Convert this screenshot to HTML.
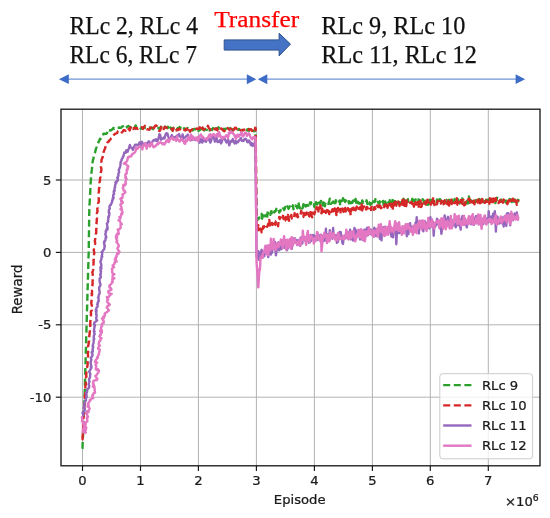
<!DOCTYPE html>
<html lang="en"><head><meta charset="utf-8"><title>Transfer reward plot</title>
<style>
html,body{margin:0;padding:0;background:#fff;}
body{width:550px;height:518px;overflow:hidden;}
svg{display:block;filter:blur(0.45px);}
.ser{font-family:"Liberation Serif","DejaVu Serif",serif;font-size:24.6px;fill:#111;stroke:#111;stroke-width:0.25;}
.sans{font-family:"DejaVu Sans","Liberation Sans",sans-serif;font-size:12.5px;fill:#1a1a1a;stroke:#1a1a1a;stroke-width:0.25;}
</style></head><body>
<svg width="550" height="518" viewBox="0 0 550 518">
<rect width="550" height="518" fill="#fff"/>
<g class="ser">
<text x="69.5" y="33.6" textLength="128.5" lengthAdjust="spacingAndGlyphs">RLc 2, RLc 4</text>
<text x="69.5" y="62.8" textLength="127.5" lengthAdjust="spacingAndGlyphs">RLc 6, RLc 7</text>
<text x="321.3" y="33.6" textLength="144" lengthAdjust="spacingAndGlyphs">RLc 9, RLc 10</text>
<text x="321.3" y="62.8" textLength="155.5" lengthAdjust="spacingAndGlyphs">RLc 11, RLc 12</text>
<text x="214.2" y="26.9" textLength="85" font-size="24" lengthAdjust="spacingAndGlyphs" style="fill:#f00;stroke:#f00">Transfer</text>
</g>
<polygon points="224.2,39.9 279.1,39.9 279.1,33.2 290.5,44.1 279.1,55.9 279.1,50.1 224.2,50.1" fill="#4472c4" stroke="#2f528f" stroke-width="1"/>
<g stroke="#6f93d6" stroke-width="1.3"><line x1="66" y1="79.2" x2="250" y2="79.2"/><line x1="264" y1="79.2" x2="518" y2="79.2"/></g>
<g fill="#3d6cc6">
<polygon points="58.9,79.2 68.8,74.3 68.8,84.1"/>
<polygon points="256.3,79.2 246.8,74.2 246.8,84.2"/>
<polygon points="257.8,79.2 267.3,74.2 267.3,84.2"/>
<polygon points="525.1,79.2 515.6,74.3 515.6,84.1"/>
</g>
<g stroke="#b2b2b2" stroke-width="1"><line x1="82.5" y1="109.2" x2="82.5" y2="465.8"/><line x1="140.5" y1="109.2" x2="140.5" y2="465.8"/><line x1="198.4" y1="109.2" x2="198.4" y2="465.8"/><line x1="256.4" y1="109.2" x2="256.4" y2="465.8"/><line x1="314.4" y1="109.2" x2="314.4" y2="465.8"/><line x1="372.4" y1="109.2" x2="372.4" y2="465.8"/><line x1="430.3" y1="109.2" x2="430.3" y2="465.8"/><line x1="488.3" y1="109.2" x2="488.3" y2="465.8"/><line x1="61" y1="180.0" x2="540" y2="180.0"/><line x1="61" y1="252.4" x2="540" y2="252.4"/><line x1="61" y1="324.8" x2="540" y2="324.8"/><line x1="61" y1="397.2" x2="540" y2="397.2"/></g>
<g fill="none" stroke-linejoin="round" stroke-width="2.4">
<path d="M82.4,448.9 L82.5,448.6 L82.5,448.0 L82.5,447.0 L82.6,446.1 L82.6,445.1 L82.6,444.4 L82.7,443.4 L82.7,442.6 L82.7,441.3 L82.8,440.9 L82.8,439.8 L82.9,439.0 L82.9,438.0 L82.9,437.1 L83.0,436.3 L83.0,435.5 L83.0,434.4 L83.1,433.5 L83.1,432.7 L83.2,431.6 L83.2,430.5 L83.2,429.9 L83.3,428.9 L83.3,427.8 L83.3,427.0 L83.4,426.2 L83.4,425.2 L83.5,424.2 L83.5,423.5 L83.5,422.8 L83.6,421.8 L83.6,420.8 L83.7,420.1 L83.7,419.3 L83.7,418.2 L83.8,417.4 L83.8,416.6 L83.8,415.6 L83.9,414.5 L83.9,413.8 L84.0,412.9 L84.0,412.1 L84.0,410.9 L84.1,410.0 L84.1,409.0 L84.1,408.0 L84.2,407.4 L84.2,406.6 L84.3,405.5 L84.3,404.9 L84.3,404.0 L84.4,403.1 L84.4,402.2 L84.4,401.3 L84.5,400.1 L84.5,399.4 L84.5,398.6 L84.6,397.3 L84.6,396.6 L84.6,395.7 L84.6,395.0 L84.7,393.9 L84.7,393.0 L84.7,392.2 L84.7,391.1 L84.8,390.4 L84.8,389.4 L84.8,388.6 L84.8,387.6 L84.9,386.9 L84.9,386.0 L84.9,385.0 L84.9,384.2 L85.0,383.4 L85.0,382.6 L85.0,381.2 L85.0,380.5 L85.1,379.7 L85.1,378.7 L85.1,377.6 L85.1,377.0 L85.2,375.8 L85.2,375.1 L85.2,374.4 L85.2,373.1 L85.3,372.3 L85.3,371.2 L85.3,370.5 L85.3,369.9 L85.4,369.1 L85.4,367.7 L85.4,366.8 L85.4,366.1 L85.5,365.4 L85.5,364.4 L85.5,363.3 L85.5,362.5 L85.6,361.6 L85.6,360.6 L85.6,359.6 L85.6,358.9 L85.7,358.0 L85.7,357.1 L85.7,356.1 L85.7,355.0 L85.8,354.2 L85.8,353.6 L85.8,352.6 L85.8,351.4 L85.9,350.9 L85.9,350.0 L85.9,349.3 L85.9,348.2 L86.0,347.1 L86.0,346.0 L86.0,345.5 L86.0,344.9 L86.1,343.6 L86.1,342.6 L86.1,341.8 L86.1,340.8 L86.2,339.9 L86.2,339.0 L86.2,338.2 L86.2,337.4 L86.3,336.4 L86.3,335.6 L86.3,334.6 L86.3,333.7 L86.4,332.4 L86.4,331.5 L86.4,331.0 L86.4,330.0 L86.5,329.2 L86.5,328.4 L86.5,327.6 L86.5,326.7 L86.6,325.8 L86.6,324.7 L86.6,323.7 L86.6,322.7 L86.7,321.9 L86.7,320.9 L86.7,320.0 L86.7,319.2 L86.8,318.4 L86.8,317.4 L86.8,316.3 L86.8,315.6 L86.9,314.8 L86.9,314.0 L86.9,313.1 L86.9,312.0 L87.0,311.0 L87.0,310.6 L87.0,309.6 L87.0,308.8 L87.1,308.0 L87.1,306.7 L87.1,305.8 L87.2,305.0 L87.2,304.1 L87.2,303.2 L87.2,302.3 L87.3,301.3 L87.3,300.2 L87.3,299.4 L87.3,298.4 L87.4,297.7 L87.4,296.7 L87.4,296.0 L87.4,295.1 L87.5,294.2 L87.5,293.3 L87.5,292.3 L87.5,291.3 L87.6,290.4 L87.6,289.5 L87.6,288.7 L87.7,287.8 L87.7,287.0 L87.7,285.8 L87.7,285.2 L87.8,284.1 L87.8,283.1 L87.8,282.3 L87.8,281.4 L87.9,280.6 L87.9,279.6 L87.9,278.6 L87.9,277.7 L88.0,277.1 L88.0,276.1 L88.0,275.0 L88.0,274.2 L88.1,273.1 L88.1,272.7 L88.1,271.4 L88.2,270.7 L88.2,269.9 L88.2,268.7 L88.2,268.0 L88.3,267.3 L88.3,266.3 L88.3,265.4 L88.3,264.6 L88.4,263.6 L88.4,262.7 L88.4,261.7 L88.4,260.9 L88.5,259.8 L88.5,259.1 L88.5,258.0 L88.5,257.0 L88.6,256.3 L88.6,255.7 L88.6,254.7 L88.7,253.6 L88.7,252.8 L88.7,251.8 L88.7,250.9 L88.7,250.0 L88.7,248.8 L88.8,248.1 L88.8,247.1 L88.8,246.3 L88.8,245.2 L88.8,244.3 L88.8,243.5 L88.8,242.9 L88.8,242.2 L88.9,241.1 L88.9,240.3 L88.9,239.2 L88.9,238.0 L88.9,237.3 L88.9,236.6 L88.9,235.6 L88.9,234.7 L89.0,233.9 L89.0,232.8 L89.0,231.8 L89.0,231.0 L89.0,230.1 L89.0,229.2 L89.0,228.5 L89.0,227.8 L89.1,226.6 L89.1,225.8 L89.1,225.0 L89.1,224.1 L89.1,223.2 L89.1,222.1 L89.1,221.3 L89.2,220.6 L89.2,219.6 L89.2,218.5 L89.2,217.7 L89.2,216.9 L89.2,215.9 L89.2,214.9 L89.2,214.2 L89.3,213.0 L89.3,212.2 L89.3,211.3 L89.3,210.2 L89.3,209.6 L89.4,208.7 L89.4,207.5 L89.5,206.9 L89.5,205.9 L89.5,204.7 L89.6,203.9 L89.6,203.2 L89.7,202.4 L89.7,201.5 L89.8,200.5 L89.8,199.7 L89.9,198.7 L89.9,198.0 L90.0,197.0 L90.0,196.1 L90.0,195.2 L90.1,194.1 L90.1,193.2 L90.2,192.6 L90.2,191.7 L90.3,190.6 L90.3,189.8 L90.4,188.8 L90.4,188.0 L90.4,186.9 L90.5,186.2 L90.5,185.0 L90.6,184.5 L90.6,183.4 L90.7,182.3 L90.7,181.5 L90.8,180.6 L90.9,179.8 L90.9,178.7 L91.0,178.1 L91.1,177.9 L91.2,176.2 L91.3,175.4 L91.4,174.4 L91.4,173.6 L91.5,172.3 L91.6,171.4 L91.7,170.9 L91.8,170.0 L91.9,169.4 L92.0,168.2 L92.1,167.3 L92.2,167.0 L92.2,165.5 L92.3,164.4 L92.4,163.7 L92.5,162.8 L92.6,162.1 L92.8,161.1 L92.9,160.0 L93.1,159.3 L93.3,159.2 L93.5,158.2 L93.7,156.0 L94.0,155.6 L94.2,154.6 L94.5,154.2 L94.7,153.2 L94.9,152.9 L95.2,151.9 L95.4,151.0 L95.7,149.9 L95.9,148.9 L96.2,148.1 L96.4,147.6 L96.7,146.6 L97.0,145.4 L97.4,145.1 L97.7,144.1 L98.2,143.1 L98.6,141.9 L99.0,141.1 L99.5,140.3 L99.9,138.6 L100.4,139.2 L100.9,138.6 L101.3,137.6 L101.8,137.3 L102.3,136.5 L102.9,135.7 L103.5,133.6 L104.1,133.7 L104.8,133.7 L105.5,134.0 L106.2,133.9 L106.9,133.3 L107.7,131.2 L108.5,129.6 L109.2,130.5 L110.0,130.2 L110.9,130.5 L111.7,129.7 L112.5,129.4 L113.4,127.9 L114.2,128.7 L115.1,128.1 L116.0,128.3 L116.8,128.3 L117.7,127.8 L118.6,127.8 L119.5,127.5 L120.4,127.9 L121.2,127.7 L122.1,126.7 L123.0,126.3 L123.9,128.1 L124.8,127.0 L125.7,127.7 L126.6,127.3 L127.5,126.4 L128.4,126.0 L129.3,126.7 L130.2,127.0 L131.1,127.5 L132.0,126.0 L132.9,126.1 L133.8,126.6 L134.7,128.3 L135.6,125.4 L136.5,127.0 L137.4,126.6 L138.3,127.4 L139.2,126.9 L140.1,127.5 L141.0,128.7 L141.9,128.1 L142.8,128.0 L143.7,128.0 L144.6,127.0 L145.5,127.9 L146.4,127.5 L147.3,126.9 L148.2,127.4 L149.1,127.5 L150.0,128.4 L150.9,127.9 L151.8,127.4 L152.7,129.0 L153.6,129.1 L154.5,129.4 L155.4,128.9 L156.3,128.2 L157.2,127.7 L158.1,127.7 L159.0,128.8 L159.9,128.4 L160.8,126.8 L161.7,127.7 L162.6,126.7 L163.5,127.9 L164.4,127.0 L165.3,126.7 L166.2,127.9 L167.1,128.1 L168.0,126.7 L168.9,128.5 L169.8,130.3 L170.7,127.6 L171.6,129.7 L172.5,128.2 L173.4,127.9 L174.3,128.1 L175.2,127.0 L176.1,129.2 L177.0,129.1 L177.9,128.0 L178.8,128.1 L179.7,127.1 L180.6,127.8 L181.5,129.2 L182.4,127.2 L183.3,127.8 L184.2,128.5 L185.1,129.6 L186.0,130.1 L186.9,128.7 L187.8,128.1 L188.7,128.9 L189.6,128.5 L190.5,128.4 L191.4,129.7 L192.3,130.6 L193.2,129.6 L194.1,128.9 L195.0,129.4 L195.9,127.4 L196.8,128.5 L197.7,127.9 L198.6,130.8 L199.5,130.2 L200.4,129.5 L201.3,129.0 L202.2,126.8 L203.1,129.0 L204.0,130.5 L204.9,128.8 L205.8,129.6 L206.7,129.9 L207.6,127.9 L208.5,129.6 L209.4,130.5 L210.3,129.7 L211.2,129.2 L212.1,129.9 L213.0,128.0 L213.9,128.9 L214.8,130.0 L215.7,128.3 L216.6,129.8 L217.5,129.0 L218.4,127.3 L219.3,128.5 L220.2,128.1 L221.1,129.2 L222.0,128.2 L222.9,129.9 L223.8,128.8 L224.7,129.4 L225.6,128.8 L226.5,128.8 L227.4,130.2 L228.3,129.8 L229.2,129.1 L230.1,128.1 L231.0,130.0 L231.9,130.2 L232.8,129.3 L233.7,129.6 L234.6,128.6 L235.5,128.3 L236.4,128.4 L237.3,129.5 L238.2,129.8 L239.1,129.0 L240.0,130.0 L240.9,130.4 L241.8,130.0 L242.7,130.7 L243.6,129.7 L244.5,129.6 L245.4,130.1 L246.3,129.8 L247.2,130.5 L248.1,128.9 L249.0,130.8 L249.9,129.4 L250.8,129.6 L251.6,128.6 L252.5,130.0 L253.4,131.1 L254.2,131.2 L254.9,131.1 L255.4,128.9 L256.6,219.0 L257.2,219.4 L257.7,218.1 L258.3,219.5 L258.8,217.8 L259.4,217.5 L259.9,217.6 L260.5,217.1 L261.0,216.1 L261.6,213.8 L262.1,218.7 L262.7,213.9 L263.2,215.0 L263.8,216.3 L264.3,215.8 L264.9,215.8 L265.4,215.8 L266.0,216.3 L266.5,214.7 L267.1,218.2 L267.6,212.4 L268.2,213.5 L268.7,212.6 L269.3,212.1 L269.8,213.1 L270.4,214.8 L270.9,211.6 L271.5,211.2 L272.0,213.1 L272.6,212.9 L273.1,214.8 L273.7,213.5 L274.2,212.0 L274.8,210.9 L275.3,211.5 L275.9,210.8 L276.4,208.8 L277.0,210.5 L277.5,210.3 L278.1,210.0 L278.6,209.5 L279.2,212.5 L279.7,211.2 L280.3,211.3 L280.8,208.8 L281.4,207.8 L281.9,208.7 L282.5,209.4 L283.0,208.4 L283.6,208.4 L284.1,210.0 L284.7,209.0 L285.2,206.9 L285.8,207.4 L286.3,207.1 L286.9,208.2 L287.4,206.3 L288.0,207.5 L288.5,208.8 L289.1,207.9 L289.6,206.4 L290.2,206.6 L290.7,207.7 L291.3,208.2 L291.8,208.8 L292.4,207.3 L292.9,205.3 L293.5,209.2 L294.0,207.8 L294.6,207.8 L295.1,207.5 L295.7,205.5 L296.2,206.3 L296.8,207.1 L297.3,208.3 L297.9,206.9 L298.4,202.0 L299.0,205.7 L299.5,206.9 L300.1,208.4 L300.6,207.6 L301.2,210.1 L301.7,208.7 L302.3,208.4 L302.8,207.7 L303.4,204.1 L303.9,207.0 L304.5,206.9 L305.0,205.1 L305.6,206.5 L306.1,206.4 L306.7,205.0 L307.2,205.3 L307.8,205.0 L308.3,205.7 L308.9,204.7 L309.4,206.0 L310.0,202.4 L310.5,204.4 L311.1,202.4 L311.6,204.0 L312.2,205.6 L312.7,204.9 L313.3,204.6 L313.8,204.8 L314.4,207.0 L314.9,203.1 L315.5,205.7 L316.0,202.3 L316.6,203.5 L317.1,204.5 L317.7,203.0 L318.2,204.4 L318.8,205.2 L319.3,202.4 L319.9,203.7 L320.4,203.3 L321.0,200.9 L321.5,203.2 L322.1,202.5 L322.6,205.6 L323.2,202.5 L323.7,206.0 L324.3,203.0 L324.8,206.3 L325.4,204.5 L325.9,204.1 L326.5,204.5 L327.0,204.7 L327.6,205.4 L328.1,205.9 L328.7,202.8 L329.2,201.1 L329.8,198.7 L330.3,201.8 L330.9,203.8 L331.4,203.4 L332.0,202.9 L332.5,202.1 L333.1,201.5 L333.6,201.9 L334.2,202.9 L334.7,199.8 L335.3,203.1 L335.8,200.1 L336.4,201.7 L336.9,201.1 L337.5,201.4 L338.0,200.4 L338.6,200.1 L339.1,201.5 L339.7,200.4 L340.2,205.5 L340.8,201.8 L341.3,201.0 L341.9,201.1 L342.4,200.4 L343.0,198.2 L343.5,201.3 L344.1,202.5 L344.6,199.9 L345.2,201.9 L345.7,200.3 L346.3,201.9 L346.8,202.6 L347.4,202.9 L347.9,202.9 L348.5,201.2 L349.0,203.4 L349.6,201.6 L350.1,202.6 L350.7,203.3 L351.2,201.8 L351.8,200.2 L352.3,202.9 L352.9,200.6 L353.4,200.7 L354.0,200.4 L354.5,203.3 L355.1,202.1 L355.6,198.9 L356.2,203.0 L356.7,205.4 L357.3,205.2 L357.8,201.7 L358.4,202.3 L358.9,203.0 L359.5,203.7 L360.0,202.5 L360.6,200.7 L361.1,203.3 L361.7,203.3 L362.2,200.4 L362.8,201.6 L363.3,202.6 L363.9,202.3 L364.4,203.1 L365.0,203.6 L365.5,203.3 L366.1,202.3 L366.6,200.3 L367.2,203.1 L367.7,204.5 L368.3,205.5 L368.8,202.6 L369.4,202.4 L369.9,204.5 L370.5,204.8 L371.0,203.2 L371.6,203.6 L372.1,201.4 L372.7,203.2 L373.2,201.3 L373.8,202.1 L374.3,202.2 L374.9,201.7 L375.4,199.2 L376.0,200.8 L376.5,202.7 L377.1,202.3 L377.6,201.8 L378.2,202.9 L378.7,203.4 L379.3,203.7 L379.8,201.3 L380.4,202.2 L380.9,201.8 L381.5,200.9 L382.0,199.9 L382.6,201.9 L383.1,200.9 L383.7,205.4 L384.2,202.4 L384.8,201.9 L385.3,201.6 L385.9,205.0 L386.4,201.1 L387.0,201.9 L387.5,201.0 L388.1,201.9 L388.6,202.1 L389.2,203.8 L389.7,200.2 L390.3,202.0 L390.8,204.6 L391.4,201.7 L391.9,201.9 L392.5,200.8 L393.0,198.1 L393.6,201.6 L394.1,203.8 L394.7,201.6 L395.2,199.3 L395.8,202.2 L396.3,202.2 L396.9,203.6 L397.4,203.6 L398.0,201.8 L398.5,202.7 L399.1,199.5 L399.6,203.5 L400.2,202.5 L400.7,203.7 L401.3,203.8 L401.8,201.8 L402.4,201.8 L402.9,200.7 L403.5,198.8 L404.0,201.5 L404.6,202.2 L405.1,200.4 L405.7,202.9 L406.2,202.2 L406.8,202.7 L407.3,200.9 L407.9,199.2 L408.4,202.9 L409.0,203.0 L409.5,201.9 L410.1,201.3 L410.6,201.5 L411.2,201.7 L411.7,201.1 L412.3,198.8 L412.8,202.8 L413.4,199.8 L413.9,201.2 L414.5,201.4 L415.0,202.2 L415.6,199.5 L416.1,203.4 L416.7,203.0 L417.2,203.1 L417.8,203.9 L418.3,200.9 L418.9,197.1 L419.4,201.9 L420.0,203.8 L420.5,203.8 L421.1,201.2 L421.6,201.6 L422.2,202.2 L422.7,199.1 L423.3,200.5 L423.8,200.7 L424.4,204.0 L424.9,201.0 L425.5,204.0 L426.0,202.0 L426.6,199.3 L427.1,204.8 L427.7,200.6 L428.2,202.6 L428.8,204.4 L429.3,201.2 L429.9,199.8 L430.4,203.1 L431.0,201.9 L431.5,199.9 L432.1,199.9 L432.6,200.9 L433.2,203.0 L433.7,201.4 L434.3,202.6 L434.8,204.2 L435.4,203.8 L435.9,204.0 L436.5,203.7 L437.0,199.4 L437.6,203.2 L438.1,202.2 L438.7,201.4 L439.2,199.9 L439.8,199.0 L440.3,199.6 L440.9,201.3 L441.4,199.7 L442.0,200.1 L442.5,200.4 L443.1,202.4 L443.6,201.1 L444.2,201.2 L444.7,203.4 L445.3,201.1 L445.8,202.3 L446.4,199.9 L446.9,201.7 L447.5,201.6 L448.0,201.6 L448.6,200.7 L449.1,199.7 L449.7,200.7 L450.2,200.6 L450.8,202.8 L451.3,202.8 L451.9,199.6 L452.4,202.1 L453.0,200.6 L453.5,201.9 L454.1,200.6 L454.6,199.0 L455.2,202.5 L455.7,202.0 L456.3,199.5 L456.8,198.2 L457.4,200.1 L457.9,199.3 L458.5,200.4 L459.0,202.0 L459.6,203.4 L460.1,200.8 L460.7,203.1 L461.2,203.0 L461.8,200.6 L462.3,198.5 L462.9,202.1 L463.4,202.1 L464.0,204.7 L464.5,203.5 L465.1,202.4 L465.6,203.7 L466.2,199.7 L466.7,201.2 L467.3,200.6 L467.8,203.5 L468.4,202.1 L468.9,196.5 L469.5,202.5 L470.0,199.7 L470.6,202.0 L471.1,200.3 L471.7,201.2 L472.2,201.9 L472.8,201.3 L473.3,199.5 L473.9,202.8 L474.4,201.6 L475.0,200.9 L475.5,201.9 L476.1,200.1 L476.6,203.6 L477.2,201.4 L477.7,201.4 L478.3,201.4 L478.8,199.5 L479.4,198.9 L479.9,200.9 L480.5,201.3 L481.0,202.8 L481.6,201.6 L482.1,199.2 L482.7,201.3 L483.2,202.0 L483.8,202.3 L484.3,201.3 L484.9,198.9 L485.4,202.2 L486.0,199.7 L486.5,201.4 L487.1,198.3 L487.6,201.5 L488.2,199.5 L488.7,202.1 L489.3,203.4 L489.8,202.6 L490.4,199.0 L490.9,199.0 L491.5,199.1 L492.0,201.4 L492.6,201.1 L493.1,200.8 L493.7,201.0 L494.2,201.4 L494.8,201.6 L495.3,203.1 L495.9,200.7 L496.4,200.8 L497.0,197.8 L497.5,198.2 L498.1,199.2 L498.6,198.6 L499.2,200.6 L499.7,202.0 L500.3,200.0 L500.8,199.7 L501.4,199.6 L501.9,200.6 L502.5,199.6 L503.0,201.0 L503.6,200.9 L504.1,201.0 L504.7,201.6 L505.2,200.6 L505.8,200.6 L506.3,203.0 L506.9,200.6 L507.4,201.6 L508.0,200.6 L508.5,199.7 L509.1,199.6 L509.6,199.1 L510.2,200.2 L510.7,199.4 L511.3,199.6 L511.8,202.1 L512.4,200.3 L512.9,202.0 L513.5,200.9 L514.0,201.7 L514.6,199.5 L515.1,200.4 L515.7,204.2 L516.2,201.9 L516.8,201.9 L517.3,200.8 L517.9,201.6 L518.4,198.7" stroke="#2ca02c" stroke-dasharray="7 3.6"/>
<path d="M82.3,440.2 L82.4,439.8 L82.5,439.3 L82.7,438.3 L82.7,437.4 L82.5,436.4 L82.9,435.5 L82.9,434.4 L82.8,433.4 L82.7,432.8 L82.9,431.6 L82.8,430.8 L82.8,430.0 L83.0,429.0 L83.1,428.4 L83.0,427.4 L83.3,426.6 L83.1,425.5 L83.0,424.6 L83.2,424.0 L83.4,423.1 L83.4,422.1 L83.4,421.3 L83.5,420.4 L83.5,419.5 L83.3,418.9 L83.6,417.7 L83.5,416.8 L83.6,416.0 L83.9,414.9 L84.0,413.8 L84.5,413.2 L84.1,412.3 L84.0,411.4 L84.1,410.5 L84.4,409.6 L84.4,408.5 L84.1,407.8 L84.5,406.5 L84.3,405.8 L84.4,404.7 L84.6,404.0 L84.5,403.4 L84.5,402.3 L84.7,401.4 L84.7,400.6 L84.8,399.6 L84.7,398.7 L84.8,397.8 L84.7,397.2 L84.6,396.3 L85.1,395.3 L85.3,394.1 L85.4,393.4 L85.2,392.2 L85.3,391.6 L85.3,390.5 L85.1,390.1 L85.4,388.6 L85.3,388.2 L85.4,387.3 L85.3,385.9 L85.6,385.1 L85.9,384.6 L85.9,383.8 L85.8,382.3 L85.7,381.5 L86.1,380.5 L86.0,379.6 L86.1,378.8 L86.2,378.4 L86.0,377.3 L86.5,376.3 L86.1,375.3 L86.3,374.6 L86.4,373.8 L86.2,372.6 L86.5,372.1 L86.7,370.8 L86.8,369.9 L86.7,369.2 L86.9,368.6 L87.1,367.4 L87.2,366.5 L87.5,365.8 L87.6,364.9 L87.6,364.1 L87.8,363.2 L87.5,362.1 L87.4,361.2 L87.6,360.4 L87.7,359.3 L88.0,358.7 L88.1,357.1 L88.0,356.3 L88.0,355.9 L88.0,354.9 L87.9,353.8 L87.9,353.0 L88.2,352.3 L88.1,351.1 L88.1,350.4 L88.3,349.4 L88.2,348.5 L88.3,347.6 L88.0,346.9 L88.3,345.6 L88.4,344.8 L88.6,344.1 L88.8,342.9 L88.5,341.8 L89.1,341.3 L89.1,340.4 L89.2,339.5 L88.8,338.6 L89.1,337.5 L89.3,337.4 L89.3,335.9 L89.4,334.9 L89.7,333.8 L89.6,333.0 L89.5,332.6 L89.8,331.5 L89.9,330.7 L89.9,329.6 L90.3,329.1 L90.2,328.0 L90.2,326.7 L90.2,326.1 L90.2,325.1 L90.3,324.4 L90.3,323.4 L90.3,322.5 L90.3,321.6 L90.5,320.5 L90.6,319.4 L90.8,319.0 L90.9,318.0 L90.9,317.1 L91.0,316.1 L90.9,314.8 L90.9,314.0 L91.2,313.7 L90.8,312.5 L91.0,311.6 L91.7,310.4 L91.2,309.7 L91.6,308.8 L91.2,308.0 L91.4,307.1 L91.7,306.2 L91.9,305.2 L91.6,304.4 L91.4,303.6 L91.2,302.7 L91.5,302.1 L91.5,301.0 L91.6,300.1 L91.8,299.0 L91.9,298.4 L92.0,297.1 L92.0,296.0 L91.7,295.2 L92.1,294.6 L91.6,293.5 L92.0,293.0 L92.0,292.0 L92.0,290.7 L92.0,290.0 L92.1,289.5 L92.2,288.2 L92.2,287.1 L92.1,286.5 L92.4,285.9 L92.3,285.0 L92.7,283.8 L92.6,283.0 L92.5,282.1 L92.6,281.4 L92.8,280.7 L92.6,279.5 L92.6,278.7 L93.0,277.5 L92.8,276.7 L92.7,275.6 L92.8,274.6 L92.7,274.0 L92.4,272.9 L92.3,272.3 L92.7,271.2 L93.0,270.3 L93.2,269.4 L93.3,268.5 L93.1,267.6 L93.3,267.0 L93.6,266.5 L93.4,264.9 L93.6,264.1 L93.5,263.1 L93.6,262.1 L93.7,261.3 L93.4,260.3 L93.8,259.5 L93.6,258.9 L93.7,257.4 L93.7,256.8 L93.8,256.0 L94.0,254.9 L94.0,254.2 L94.3,253.3 L94.3,252.3 L94.1,251.7 L93.7,250.3 L93.9,249.7 L94.0,248.7 L94.1,247.6 L94.1,246.9 L94.4,246.0 L94.7,245.3 L95.1,244.0 L95.2,243.2 L95.0,242.3 L95.0,241.9 L94.8,240.5 L95.1,240.0 L95.2,238.6 L95.2,238.0 L95.2,237.1 L95.3,236.3 L95.3,235.2 L95.7,233.9 L96.3,233.0 L96.2,232.8 L96.3,231.8 L96.2,230.7 L96.1,230.1 L96.5,228.9 L96.3,227.9 L96.3,226.9 L96.3,226.5 L96.5,225.9 L96.5,224.5 L96.6,223.7 L96.4,223.0 L96.5,222.4 L96.9,220.6 L96.7,220.0 L96.7,219.3 L97.1,218.0 L97.2,217.4 L97.4,216.5 L96.9,215.8 L97.1,214.6 L97.0,213.9 L96.9,212.8 L97.3,212.1 L97.6,211.2 L97.4,210.1 L97.3,209.0 L97.4,208.7 L97.6,207.8 L97.5,206.9 L98.2,205.6 L98.3,204.7 L98.2,204.3 L98.1,203.3 L98.6,202.0 L99.0,201.2 L98.7,200.4 L98.7,199.4 L98.9,198.3 L98.6,197.8 L98.6,196.9 L98.9,195.9 L98.8,194.6 L98.8,193.8 L98.7,193.1 L98.7,192.4 L99.0,191.3 L99.0,190.7 L98.9,189.7 L99.0,188.5 L99.5,187.1 L99.6,186.4 L99.5,185.5 L99.6,184.9 L99.8,184.2 L99.8,183.6 L99.5,182.5 L99.8,181.3 L99.9,181.1 L100.1,179.9 L99.9,178.8 L100.3,177.8 L100.2,176.7 L100.0,176.2 L100.5,175.3 L100.5,174.7 L100.7,173.8 L100.7,172.8 L101.0,172.0 L101.2,170.8 L101.4,169.8 L101.4,168.9 L101.1,167.7 L100.9,167.0 L101.1,166.1 L101.1,165.5 L101.4,164.5 L101.5,163.1 L101.4,162.6 L101.4,162.1 L101.5,160.5 L101.6,159.7 L101.9,159.0 L102.3,157.8 L102.8,157.0 L102.7,156.4 L102.9,155.2 L103.4,154.7 L103.7,154.0 L103.9,152.6 L103.6,152.0 L103.8,151.6 L104.2,150.4 L104.4,149.7 L105.0,148.9 L105.1,147.8 L105.4,147.3 L105.5,146.4 L105.7,144.9 L106.1,144.6 L106.5,144.2 L107.0,143.5 L107.7,142.0 L108.2,141.7 L108.9,141.5 L109.2,140.4 L109.8,140.0 L110.4,139.5 L111.1,138.2 L111.6,137.7 L112.2,136.6 L112.8,136.6 L113.5,135.5 L114.2,134.5 L114.8,134.1 L115.5,133.6 L116.3,133.4 L117.1,133.1 L117.7,131.5 L118.6,131.0 L119.3,131.4 L120.3,131.3 L121.1,130.8 L121.9,132.5 L122.7,131.6 L123.6,130.2 L124.5,130.3 L125.3,130.8 L126.2,130.0 L127.1,127.7 L128.0,128.6 L128.9,128.7 L129.7,130.5 L130.6,127.3 L131.5,129.3 L132.4,128.3 L133.3,128.9 L134.1,127.8 L135.0,127.9 L135.9,128.9 L136.8,128.1 L137.7,128.9 L138.6,127.9 L139.5,127.3 L140.4,127.4 L141.3,127.1 L142.2,127.4 L143.1,129.0 L144.0,126.9 L144.9,125.8 L145.8,127.2 L146.7,129.3 L147.6,129.3 L148.5,129.6 L149.4,129.7 L150.3,127.6 L151.2,127.9 L152.1,125.2 L153.0,126.5 L153.9,128.1 L154.8,126.4 L155.7,125.4 L156.6,125.9 L157.5,127.6 L158.4,129.1 L159.3,131.1 L160.2,130.5 L161.1,127.3 L162.0,125.5 L162.9,127.5 L163.8,129.1 L164.7,126.8 L165.6,127.3 L166.5,127.5 L167.4,128.1 L168.3,128.1 L169.2,128.8 L170.1,129.6 L171.0,128.8 L171.9,129.3 L172.8,130.8 L173.7,128.1 L174.6,127.3 L175.5,128.6 L176.4,130.5 L177.3,129.3 L178.2,129.9 L179.1,128.6 L180.0,129.5 L180.9,128.2 L181.8,129.2 L182.7,129.2 L183.6,129.2 L184.5,130.3 L185.4,130.3 L186.3,128.5 L187.2,129.6 L188.1,127.2 L189.0,129.3 L189.9,131.8 L190.8,130.2 L191.7,129.8 L192.6,129.2 L193.5,129.8 L194.4,128.7 L195.3,129.5 L196.2,128.8 L197.1,128.5 L198.0,128.9 L198.9,128.9 L199.8,127.2 L200.7,130.6 L201.6,129.6 L202.5,127.4 L203.4,129.7 L204.3,129.2 L205.2,129.3 L206.1,129.9 L207.0,128.4 L207.9,125.8 L208.8,128.0 L209.7,129.0 L210.6,130.1 L211.5,128.7 L212.4,128.7 L213.3,129.5 L214.2,128.9 L215.1,128.9 L216.0,129.4 L216.9,128.2 L217.8,130.6 L218.7,128.7 L219.6,129.1 L220.5,128.9 L221.4,128.4 L222.3,129.6 L223.2,130.4 L224.1,131.2 L225.0,130.5 L225.9,129.2 L226.8,130.2 L227.7,128.1 L228.6,129.0 L229.5,129.8 L230.4,130.1 L231.3,128.4 L232.2,127.6 L233.1,130.6 L234.0,129.3 L234.9,127.8 L235.8,127.7 L236.7,129.0 L237.6,130.6 L238.5,129.9 L239.4,131.0 L240.3,130.3 L241.2,130.4 L242.1,130.9 L243.0,129.7 L243.9,130.1 L244.8,129.5 L245.7,129.1 L246.6,130.3 L247.5,129.2 L248.4,129.8 L249.3,129.1 L250.2,129.6 L251.1,129.3 L252.0,130.9 L252.9,130.4 L253.8,130.2 L254.6,131.8 L255.2,127.6 L255.7,128.2 L256.6,230.6 L257.2,229.2 L257.7,229.1 L258.3,225.3 L258.8,230.2 L259.4,229.2 L259.9,228.8 L260.5,228.8 L261.0,228.9 L261.6,232.3 L262.1,228.6 L262.7,229.1 L263.2,226.5 L263.8,227.6 L264.3,226.2 L264.9,226.2 L265.4,224.5 L266.0,224.3 L266.5,226.3 L267.1,226.8 L267.6,226.1 L268.2,223.7 L268.7,225.1 L269.3,219.9 L269.8,225.5 L270.4,224.1 L270.9,224.3 L271.5,225.8 L272.0,222.9 L272.6,224.9 L273.1,222.4 L273.7,223.7 L274.2,222.0 L274.8,222.9 L275.3,224.8 L275.9,221.1 L276.4,220.6 L277.0,220.9 L277.5,221.8 L278.1,226.2 L278.6,220.4 L279.2,217.0 L279.7,219.0 L280.3,217.3 L280.8,218.8 L281.4,219.8 L281.9,218.0 L282.5,218.1 L283.0,215.8 L283.6,219.1 L284.1,217.6 L284.7,220.5 L285.2,220.6 L285.8,217.0 L286.3,217.4 L286.9,218.1 L287.4,219.3 L288.0,215.0 L288.5,217.3 L289.1,220.9 L289.6,217.7 L290.2,217.8 L290.7,217.3 L291.3,215.0 L291.8,218.5 L292.4,217.5 L292.9,217.1 L293.5,218.0 L294.0,218.1 L294.6,213.1 L295.1,216.8 L295.7,215.2 L296.2,216.2 L296.8,214.6 L297.3,214.1 L297.9,217.2 L298.4,215.7 L299.0,214.9 L299.5,214.7 L300.1,215.3 L300.6,215.0 L301.2,210.7 L301.7,212.8 L302.3,214.1 L302.8,215.8 L303.4,217.0 L303.9,212.9 L304.5,217.5 L305.0,214.6 L305.6,214.9 L306.1,213.0 L306.7,212.6 L307.2,216.1 L307.8,213.3 L308.3,213.2 L308.9,215.3 L309.4,216.4 L310.0,210.6 L310.5,212.3 L311.1,212.7 L311.6,215.9 L312.2,217.3 L312.7,212.8 L313.3,213.0 L313.8,213.8 L314.4,214.3 L314.9,211.6 L315.5,213.4 L316.0,210.8 L316.6,206.9 L317.1,208.8 L317.7,211.8 L318.2,213.1 L318.8,207.7 L319.3,208.0 L319.9,211.1 L320.4,205.4 L321.0,211.9 L321.5,213.3 L322.1,206.2 L322.6,212.2 L323.2,211.0 L323.7,213.8 L324.3,212.0 L324.8,210.8 L325.4,211.3 L325.9,212.8 L326.5,211.5 L327.0,211.1 L327.6,208.4 L328.1,211.5 L328.7,211.0 L329.2,214.1 L329.8,211.1 L330.3,210.6 L330.9,209.5 L331.4,211.8 L332.0,210.3 L332.5,209.2 L333.1,213.2 L333.6,213.9 L334.2,209.9 L334.7,208.4 L335.3,212.1 L335.8,208.9 L336.4,215.1 L336.9,210.4 L337.5,211.8 L338.0,207.9 L338.6,209.7 L339.1,211.9 L339.7,210.9 L340.2,209.0 L340.8,214.1 L341.3,211.5 L341.9,209.5 L342.4,208.5 L343.0,209.0 L343.5,211.9 L344.1,208.3 L344.6,209.4 L345.2,207.9 L345.7,211.5 L346.3,209.2 L346.8,210.8 L347.4,210.4 L347.9,208.2 L348.5,210.3 L349.0,210.9 L349.6,207.1 L350.1,210.1 L350.7,215.5 L351.2,209.0 L351.8,210.0 L352.3,206.5 L352.9,209.4 L353.4,207.7 L354.0,209.9 L354.5,208.6 L355.1,206.4 L355.6,210.3 L356.2,208.3 L356.7,206.6 L357.3,208.3 L357.8,206.6 L358.4,208.8 L358.9,208.2 L359.5,207.5 L360.0,209.3 L360.6,205.9 L361.1,209.6 L361.7,204.5 L362.2,210.5 L362.8,208.5 L363.3,207.4 L363.9,206.4 L364.4,208.6 L365.0,207.5 L365.5,207.3 L366.1,209.5 L366.6,207.0 L367.2,207.1 L367.7,208.2 L368.3,209.5 L368.8,207.3 L369.4,207.6 L369.9,207.4 L370.5,208.6 L371.0,210.0 L371.6,205.8 L372.1,206.7 L372.7,206.9 L373.2,208.1 L373.8,209.8 L374.3,207.2 L374.9,207.3 L375.4,208.9 L376.0,204.7 L376.5,205.1 L377.1,205.7 L377.6,206.5 L378.2,207.0 L378.7,205.6 L379.3,209.6 L379.8,205.5 L380.4,205.9 L380.9,208.2 L381.5,207.9 L382.0,206.4 L382.6,206.9 L383.1,207.7 L383.7,206.2 L384.2,207.2 L384.8,204.4 L385.3,205.9 L385.9,202.9 L386.4,203.9 L387.0,203.5 L387.5,207.8 L388.1,205.0 L388.6,206.1 L389.2,203.9 L389.7,205.0 L390.3,204.9 L390.8,203.8 L391.4,206.7 L391.9,202.4 L392.5,206.1 L393.0,210.1 L393.6,204.1 L394.1,205.0 L394.7,202.2 L395.2,204.6 L395.8,201.7 L396.3,205.7 L396.9,204.0 L397.4,201.3 L398.0,202.0 L398.5,201.5 L399.1,203.8 L399.6,206.0 L400.2,203.9 L400.7,202.2 L401.3,202.6 L401.8,204.4 L402.4,199.9 L402.9,204.9 L403.5,205.0 L404.0,199.8 L404.6,205.8 L405.1,201.3 L405.7,203.4 L406.2,206.1 L406.8,201.2 L407.3,200.3 L407.9,201.5 L408.4,201.6 L409.0,203.3 L409.5,202.8 L410.1,202.7 L410.6,202.7 L411.2,203.2 L411.7,202.0 L412.3,204.0 L412.8,203.6 L413.4,201.7 L413.9,206.7 L414.5,201.5 L415.0,204.6 L415.6,202.2 L416.1,203.9 L416.7,204.4 L417.2,205.0 L417.8,206.1 L418.3,202.0 L418.9,208.3 L419.4,204.5 L420.0,201.8 L420.5,200.5 L421.1,207.1 L421.6,206.5 L422.2,203.4 L422.7,204.5 L423.3,205.6 L423.8,203.4 L424.4,202.2 L424.9,202.8 L425.5,204.4 L426.0,203.0 L426.6,200.6 L427.1,203.9 L427.7,199.7 L428.2,201.0 L428.8,204.8 L429.3,203.3 L429.9,203.1 L430.4,202.8 L431.0,204.5 L431.5,202.7 L432.1,199.0 L432.6,202.6 L433.2,196.9 L433.7,198.2 L434.3,205.0 L434.8,204.6 L435.4,201.8 L435.9,202.3 L436.5,202.6 L437.0,204.3 L437.6,201.2 L438.1,200.7 L438.7,201.1 L439.2,202.5 L439.8,202.8 L440.3,201.7 L440.9,203.6 L441.4,200.6 L442.0,202.0 L442.5,201.0 L443.1,200.3 L443.6,204.3 L444.2,201.9 L444.7,200.3 L445.3,202.1 L445.8,200.4 L446.4,203.1 L446.9,203.8 L447.5,204.2 L448.0,200.4 L448.6,201.7 L449.1,205.5 L449.7,202.0 L450.2,204.4 L450.8,205.1 L451.3,199.8 L451.9,204.0 L452.4,203.6 L453.0,203.8 L453.5,205.3 L454.1,203.2 L454.6,202.2 L455.2,203.1 L455.7,201.4 L456.3,202.8 L456.8,198.3 L457.4,204.7 L457.9,201.2 L458.5,202.8 L459.0,202.5 L459.6,202.1 L460.1,202.1 L460.7,202.0 L461.2,198.8 L461.8,200.5 L462.3,203.8 L462.9,200.1 L463.4,199.7 L464.0,205.4 L464.5,204.3 L465.1,204.8 L465.6,202.0 L466.2,202.2 L466.7,203.1 L467.3,202.8 L467.8,201.6 L468.4,199.0 L468.9,200.0 L469.5,198.7 L470.0,204.2 L470.6,201.1 L471.1,201.2 L471.7,202.0 L472.2,201.6 L472.8,202.5 L473.3,200.4 L473.9,198.6 L474.4,204.4 L475.0,200.4 L475.5,200.4 L476.1,199.9 L476.6,200.2 L477.2,201.3 L477.7,202.7 L478.3,199.5 L478.8,201.7 L479.4,200.1 L479.9,203.4 L480.5,199.2 L481.0,201.2 L481.6,202.5 L482.1,198.9 L482.7,201.2 L483.2,201.5 L483.8,199.7 L484.3,200.6 L484.9,202.9 L485.4,201.7 L486.0,200.4 L486.5,200.7 L487.1,201.9 L487.6,203.4 L488.2,202.7 L488.7,202.5 L489.3,204.0 L489.8,198.5 L490.4,198.1 L490.9,196.6 L491.5,202.0 L492.0,196.9 L492.6,200.4 L493.1,202.2 L493.7,198.5 L494.2,199.4 L494.8,200.3 L495.3,202.1 L495.9,198.2 L496.4,201.1 L497.0,202.1 L497.5,201.2 L498.1,201.1 L498.6,203.1 L499.2,201.4 L499.7,200.8 L500.3,200.1 L500.8,201.8 L501.4,200.3 L501.9,201.8 L502.5,201.0 L503.0,202.7 L503.6,199.4 L504.1,200.6 L504.7,201.2 L505.2,201.4 L505.8,202.7 L506.3,201.5 L506.9,202.3 L507.4,204.2 L508.0,202.4 L508.5,198.8 L509.1,197.8 L509.6,201.4 L510.2,199.9 L510.7,200.9 L511.3,200.2 L511.8,202.8 L512.4,202.8 L512.9,198.6 L513.5,200.7 L514.0,199.9 L514.6,198.0 L515.1,201.3 L515.7,200.2 L516.2,201.1 L516.8,204.8 L517.3,203.1 L517.9,202.6 L518.4,199.8" stroke="#d62728" stroke-dasharray="7 3.6"/>
<path d="M83.1,415.2 L83.3,415.4 L83.3,414.1 L82.6,413.4 L82.6,412.3 L83.6,411.6 L84.1,412.0 L84.7,410.0 L84.7,408.8 L83.5,408.1 L84.2,407.3 L84.3,405.7 L84.4,404.2 L84.6,403.8 L84.7,403.3 L84.7,402.2 L85.6,401.1 L86.0,400.2 L85.8,399.6 L85.8,399.0 L86.5,397.3 L86.7,396.8 L86.8,396.5 L86.4,395.6 L86.5,394.0 L86.4,393.4 L86.0,392.8 L87.0,392.5 L87.2,390.4 L87.3,390.4 L87.2,389.2 L88.0,388.6 L89.0,388.0 L89.1,386.4 L89.3,385.4 L88.6,384.8 L88.8,384.4 L88.9,383.0 L89.6,381.6 L89.4,380.9 L89.0,380.5 L89.1,380.1 L89.1,378.7 L89.9,377.7 L90.1,376.8 L90.1,375.9 L90.1,374.7 L90.4,373.9 L90.1,373.3 L89.7,372.5 L89.1,371.6 L90.1,370.2 L90.5,369.4 L90.8,368.4 L90.8,368.3 L91.5,367.8 L90.8,366.6 L91.4,366.1 L90.9,364.5 L90.8,363.4 L90.5,362.0 L90.9,361.6 L91.0,360.6 L91.4,359.9 L91.3,359.3 L90.9,358.1 L91.5,356.7 L92.2,356.2 L92.5,355.4 L92.3,354.6 L92.5,354.0 L91.7,352.8 L91.9,351.8 L92.7,351.7 L92.9,350.8 L92.5,349.4 L93.0,348.0 L92.9,347.1 L93.3,346.6 L92.6,346.0 L92.7,345.9 L93.1,344.1 L93.4,343.1 L93.7,341.9 L93.7,341.2 L93.6,340.1 L93.9,338.9 L94.3,338.8 L93.6,337.7 L93.7,337.3 L93.8,335.8 L94.1,335.0 L94.7,334.3 L94.1,332.4 L94.6,331.4 L93.9,331.4 L94.0,330.5 L94.1,328.8 L94.4,328.1 L94.4,327.2 L94.5,326.5 L94.7,326.5 L94.9,325.0 L94.3,325.0 L94.2,323.4 L94.6,322.1 L95.3,322.1 L96.0,321.2 L97.2,320.5 L96.8,319.9 L96.2,318.7 L96.3,317.8 L96.6,315.6 L96.6,314.7 L96.1,314.4 L96.2,313.6 L96.4,312.9 L95.9,311.6 L95.8,311.2 L96.7,310.9 L95.9,309.5 L96.4,308.6 L96.6,307.6 L97.5,306.8 L97.7,305.6 L97.2,304.4 L97.9,303.7 L97.6,302.8 L98.5,301.2 L98.9,300.8 L98.5,300.0 L98.6,299.2 L98.5,298.0 L98.0,297.5 L98.6,296.8 L98.7,295.3 L99.0,294.7 L99.3,294.1 L99.6,293.3 L99.7,291.7 L99.3,290.6 L99.2,290.0 L99.3,288.8 L99.2,289.3 L99.1,287.4 L100.0,286.2 L100.0,285.9 L100.6,284.6 L99.9,282.8 L99.8,282.6 L99.6,281.6 L99.6,280.8 L99.6,279.5 L99.7,278.8 L99.7,278.3 L100.7,277.5 L100.9,276.2 L100.4,275.4 L100.2,274.4 L100.7,273.9 L101.0,273.0 L100.6,271.7 L101.1,271.4 L100.5,270.2 L100.5,269.6 L101.5,268.3 L100.3,267.8 L100.7,266.8 L101.4,266.0 L101.4,265.3 L101.2,264.4 L101.0,263.4 L100.5,262.5 L100.5,261.0 L101.1,260.4 L101.3,258.7 L101.7,257.5 L101.9,257.4 L102.2,256.7 L101.6,256.7 L101.9,255.7 L102.1,254.9 L102.2,253.5 L102.1,252.7 L101.6,252.3 L102.5,251.2 L103.2,250.2 L104.3,249.1 L104.3,247.7 L104.8,246.6 L104.7,245.4 L104.3,245.4 L104.5,244.4 L103.9,243.3 L104.3,242.8 L104.4,241.6 L104.1,241.4 L104.9,241.2 L105.5,239.8 L105.6,238.1 L105.8,236.6 L106.4,237.3 L106.0,236.1 L105.4,234.3 L105.2,234.3 L105.9,232.3 L106.1,231.7 L105.6,231.0 L106.5,230.1 L106.7,228.8 L107.4,229.6 L107.7,227.8 L107.3,227.0 L107.3,226.0 L107.0,224.2 L106.9,223.6 L107.1,223.2 L107.6,222.8 L108.3,221.4 L107.9,220.7 L108.3,219.6 L108.4,219.0 L108.3,216.7 L108.9,217.0 L108.8,215.8 L109.4,214.8 L109.2,212.8 L108.8,212.4 L109.4,212.6 L108.9,212.9 L108.8,210.8 L109.2,209.5 L109.6,209.2 L109.8,208.4 L109.4,207.0 L109.4,206.2 L110.3,205.2 L110.9,204.9 L110.7,204.4 L111.2,204.1 L111.6,203.0 L112.2,201.8 L112.0,200.6 L112.8,200.1 L112.7,198.1 L113.3,198.9 L113.6,197.3 L113.2,196.9 L113.2,194.9 L113.6,194.7 L114.2,193.7 L113.7,192.4 L113.8,191.2 L114.4,190.0 L114.8,190.7 L114.5,189.9 L114.5,188.4 L115.1,187.4 L115.0,185.9 L115.5,184.2 L116.1,183.1 L116.3,182.9 L115.4,182.5 L116.4,181.2 L117.1,181.3 L117.7,180.6 L118.0,179.5 L117.2,177.5 L118.0,177.2 L118.1,176.5 L118.5,175.1 L118.4,173.5 L118.3,174.7 L118.4,173.7 L119.2,172.2 L119.2,172.3 L119.1,171.4 L118.7,170.1 L119.2,169.0 L119.4,168.4 L119.7,167.9 L120.2,166.4 L120.5,165.2 L120.5,164.6 L120.6,162.0 L120.7,162.1 L121.1,161.3 L121.5,160.7 L121.6,159.8 L121.5,159.4 L122.2,158.5 L122.8,157.7 L122.8,156.7 L123.4,156.4 L123.7,154.9 L123.6,155.3 L124.4,152.4 L125.3,152.8 L125.7,152.8 L126.2,150.5 L127.2,150.2 L127.6,151.8 L128.1,150.1 L128.9,148.4 L129.9,144.9 L130.7,147.5 L131.3,147.7 L132.1,148.1 L132.9,149.9 L133.6,147.4 L134.3,146.5 L135.0,144.8 L136.0,144.9 L136.8,144.6 L138.1,145.3 L138.8,145.0 L139.3,142.8 L140.1,142.3 L141.0,144.8 L141.9,141.8 L142.7,143.5 L143.6,145.4 L144.5,144.3 L145.4,143.1 L146.4,144.6 L147.2,143.2 L148.0,142.1 L148.9,141.3 L149.9,143.2 L150.8,142.9 L151.7,144.2 L152.5,141.3 L153.4,140.4 L154.3,139.8 L155.2,140.6 L156.2,139.2 L157.1,141.2 L157.7,140.6 L158.6,138.3 L159.4,134.3 L160.1,134.7 L161.1,139.8 L162.0,138.8 L162.8,138.7 L163.6,137.6 L164.5,138.5 L165.5,134.7 L166.3,133.3 L167.3,133.4 L168.2,136.4 L169.1,138.5 L170.0,138.7 L170.9,137.6 L171.8,135.1 L172.7,138.1 L173.6,137.0 L174.5,137.2 L175.4,137.1 L176.3,136.3 L177.2,135.5 L178.1,135.5 L179.0,134.1 L179.9,136.7 L180.8,136.7 L181.7,138.9 L182.6,134.5 L183.4,138.6 L184.3,137.7 L185.3,137.3 L186.1,136.1 L187.0,135.8 L187.9,134.6 L188.9,138.5 L189.8,137.8 L190.7,139.3 L191.7,140.0 L192.5,137.9 L193.4,137.8 L194.2,137.7 L195.2,140.1 L196.1,139.3 L197.0,139.3 L197.9,140.3 L198.8,139.3 L199.6,142.7 L200.5,138.8 L201.5,141.4 L202.3,142.6 L203.1,138.7 L204.0,141.0 L205.0,140.8 L205.9,141.8 L206.7,138.5 L207.6,140.1 L208.5,138.5 L209.4,139.2 L210.2,142.6 L211.1,140.9 L212.0,136.6 L212.9,136.9 L213.9,137.5 L214.9,141.6 L215.7,139.8 L216.6,137.8 L217.5,142.0 L218.3,141.8 L219.2,141.9 L220.1,140.0 L221.0,143.4 L221.9,141.7 L222.8,137.9 L223.8,138.3 L224.7,138.9 L225.5,140.4 L226.5,142.6 L227.4,140.5 L228.3,140.0 L229.2,145.3 L230.1,142.8 L231.0,140.9 L231.9,141.4 L232.8,139.1 L233.7,141.8 L234.6,143.4 L235.5,141.0 L236.4,143.3 L237.3,141.5 L238.2,142.0 L239.1,140.2 L240.0,139.6 L240.9,138.1 L241.8,140.9 L242.7,140.8 L243.6,140.8 L244.5,139.2 L245.4,138.7 L246.3,139.5 L247.2,141.9 L248.1,142.3 L249.0,140.6 L249.9,141.9 L250.8,145.0 L251.7,143.0 L252.6,145.9 L253.5,143.9 L254.3,145.0 L254.9,141.9 L255.4,144.1 L256.6,256.6 L257.2,257.5 L257.7,254.7 L258.3,251.1 L258.8,259.9 L259.4,254.5 L259.9,252.7 L260.5,257.3 L261.0,252.0 L261.6,249.8 L262.1,251.8 L262.7,253.3 L263.2,254.3 L263.8,254.9 L264.3,256.2 L264.9,252.6 L265.4,253.6 L266.0,251.9 L266.5,249.8 L267.1,252.7 L267.6,252.5 L268.2,257.0 L268.7,253.3 L269.3,248.5 L269.8,251.9 L270.4,249.3 L270.9,254.6 L271.5,244.5 L272.0,252.8 L272.6,246.5 L273.1,248.7 L273.7,247.9 L274.2,243.1 L274.8,241.6 L275.3,247.8 L275.9,255.3 L276.4,252.6 L277.0,246.7 L277.5,248.7 L278.1,247.2 L278.6,242.2 L279.2,250.3 L279.7,249.2 L280.3,245.8 L280.8,245.2 L281.4,249.1 L281.9,247.5 L282.5,245.2 L283.0,246.7 L283.6,245.9 L284.1,244.4 L284.7,243.2 L285.2,248.1 L285.8,244.0 L286.3,241.3 L286.9,250.3 L287.4,249.3 L288.0,246.8 L288.5,244.6 L289.1,245.1 L289.6,239.8 L290.2,243.7 L290.7,244.8 L291.3,243.3 L291.8,248.9 L292.4,241.3 L292.9,243.8 L293.5,238.4 L294.0,242.6 L294.6,241.1 L295.1,238.5 L295.7,241.1 L296.2,242.5 L296.8,240.6 L297.3,245.0 L297.9,240.3 L298.4,244.8 L299.0,244.5 L299.5,240.1 L300.1,246.0 L300.6,237.7 L301.2,242.6 L301.7,241.5 L302.3,243.5 L302.8,236.3 L303.4,236.6 L303.9,237.6 L304.5,240.3 L305.0,240.6 L305.6,240.3 L306.1,239.3 L306.7,237.6 L307.2,235.3 L307.8,237.9 L308.3,241.0 L308.9,242.7 L309.4,238.0 L310.0,242.3 L310.5,235.0 L311.1,240.8 L311.6,235.5 L312.2,239.0 L312.7,235.4 L313.3,234.9 L313.8,236.4 L314.4,242.2 L314.9,236.3 L315.5,239.7 L316.0,238.5 L316.6,238.9 L317.1,238.9 L317.7,239.9 L318.2,234.2 L318.8,237.5 L319.3,238.8 L319.9,236.0 L320.4,238.6 L321.0,234.6 L321.5,239.6 L322.1,235.6 L322.6,236.5 L323.2,239.9 L323.7,241.1 L324.3,236.1 L324.8,235.3 L325.4,240.3 L325.9,228.7 L326.5,240.7 L327.0,241.7 L327.6,234.4 L328.1,240.7 L328.7,238.7 L329.2,238.8 L329.8,230.1 L330.3,234.9 L330.9,236.3 L331.4,235.7 L332.0,235.7 L332.5,238.7 L333.1,228.0 L333.6,235.5 L334.2,234.7 L334.7,236.4 L335.3,235.3 L335.8,236.7 L336.4,237.7 L336.9,242.9 L337.5,234.8 L338.0,241.8 L338.6,236.5 L339.1,233.9 L339.7,231.9 L340.2,238.9 L340.8,232.1 L341.3,239.0 L341.9,237.9 L342.4,242.9 L343.0,244.0 L343.5,237.8 L344.1,237.0 L344.6,238.7 L345.2,236.5 L345.7,234.6 L346.3,237.6 L346.8,232.5 L347.4,238.3 L347.9,236.3 L348.5,232.4 L349.0,232.3 L349.6,234.3 L350.1,229.8 L350.7,239.3 L351.2,238.9 L351.8,232.4 L352.3,234.7 L352.9,240.5 L353.4,237.0 L354.0,232.2 L354.5,228.0 L355.1,229.2 L355.6,238.1 L356.2,236.2 L356.7,230.8 L357.3,236.6 L357.8,235.1 L358.4,232.4 L358.9,232.7 L359.5,232.8 L360.0,239.5 L360.6,231.9 L361.1,232.7 L361.7,238.2 L362.2,239.3 L362.8,231.5 L363.3,240.2 L363.9,238.0 L364.4,229.6 L365.0,239.0 L365.5,229.6 L366.1,235.4 L366.6,230.1 L367.2,227.6 L367.7,235.5 L368.3,234.9 L368.8,233.2 L369.4,233.8 L369.9,232.9 L370.5,232.3 L371.0,229.6 L371.6,234.5 L372.1,233.1 L372.7,232.1 L373.2,230.9 L373.8,231.6 L374.3,227.7 L374.9,231.1 L375.4,229.2 L376.0,236.1 L376.5,229.7 L377.1,230.5 L377.6,232.0 L378.2,234.6 L378.7,233.7 L379.3,232.1 L379.8,238.7 L380.4,232.4 L380.9,232.8 L381.5,240.4 L382.0,229.6 L382.6,234.3 L383.1,233.1 L383.7,227.3 L384.2,228.9 L384.8,233.6 L385.3,226.8 L385.9,230.0 L386.4,233.8 L387.0,230.4 L387.5,231.6 L388.1,228.7 L388.6,228.5 L389.2,228.4 L389.7,229.2 L390.3,232.3 L390.8,230.8 L391.4,236.6 L391.9,232.6 L392.5,231.3 L393.0,237.3 L393.6,230.4 L394.1,228.6 L394.7,230.1 L395.2,226.3 L395.8,231.0 L396.3,244.2 L396.9,232.0 L397.4,228.4 L398.0,228.8 L398.5,230.8 L399.1,233.1 L399.6,228.3 L400.2,227.7 L400.7,232.3 L401.3,230.0 L401.8,230.1 L402.4,232.0 L402.9,228.8 L403.5,227.9 L404.0,231.8 L404.6,228.3 L405.1,227.7 L405.7,229.1 L406.2,229.5 L406.8,236.2 L407.3,226.2 L407.9,228.2 L408.4,234.2 L409.0,228.5 L409.5,228.9 L410.1,223.1 L410.6,230.1 L411.2,230.4 L411.7,230.1 L412.3,226.9 L412.8,228.2 L413.4,226.9 L413.9,229.6 L414.5,227.0 L415.0,229.2 L415.6,222.6 L416.1,225.1 L416.7,217.3 L417.2,225.0 L417.8,228.6 L418.3,225.6 L418.9,233.5 L419.4,223.6 L420.0,224.6 L420.5,227.1 L421.1,223.8 L421.6,224.0 L422.2,220.7 L422.7,221.9 L423.3,231.4 L423.8,225.0 L424.4,228.0 L424.9,221.3 L425.5,224.2 L426.0,226.5 L426.6,224.4 L427.1,223.1 L427.7,223.9 L428.2,224.5 L428.8,227.1 L429.3,228.4 L429.9,220.5 L430.4,217.3 L431.0,222.8 L431.5,224.0 L432.1,226.3 L432.6,227.6 L433.2,222.2 L433.7,235.7 L434.3,225.3 L434.8,227.0 L435.4,226.3 L435.9,224.9 L436.5,224.7 L437.0,218.7 L437.6,222.2 L438.1,223.9 L438.7,223.1 L439.2,225.6 L439.8,227.7 L440.3,228.7 L440.9,227.9 L441.4,233.9 L442.0,228.7 L442.5,224.6 L443.1,226.1 L443.6,222.7 L444.2,218.7 L444.7,215.5 L445.3,222.9 L445.8,220.9 L446.4,222.7 L446.9,225.7 L447.5,218.3 L448.0,216.8 L448.6,223.0 L449.1,223.9 L449.7,222.0 L450.2,221.0 L450.8,217.4 L451.3,221.8 L451.9,220.1 L452.4,223.6 L453.0,225.6 L453.5,221.0 L454.1,223.6 L454.6,223.1 L455.2,224.6 L455.7,227.4 L456.3,224.8 L456.8,224.7 L457.4,224.9 L457.9,221.0 L458.5,221.9 L459.0,223.1 L459.6,226.0 L460.1,226.5 L460.7,229.6 L461.2,219.2 L461.8,221.5 L462.3,216.3 L462.9,219.6 L463.4,216.4 L464.0,224.9 L464.5,224.4 L465.1,218.6 L465.6,222.4 L466.2,224.1 L466.7,227.4 L467.3,224.8 L467.8,222.3 L468.4,221.3 L468.9,223.5 L469.5,222.7 L470.0,220.1 L470.6,217.4 L471.1,224.4 L471.7,219.4 L472.2,220.3 L472.8,223.8 L473.3,221.4 L473.9,224.9 L474.4,218.1 L475.0,223.3 L475.5,217.2 L476.1,216.0 L476.6,217.3 L477.2,221.1 L477.7,218.9 L478.3,216.5 L478.8,224.4 L479.4,218.3 L479.9,220.3 L480.5,221.7 L481.0,219.5 L481.6,221.9 L482.1,222.9 L482.7,220.7 L483.2,224.1 L483.8,219.2 L484.3,217.2 L484.9,221.0 L485.4,217.7 L486.0,221.6 L486.5,220.4 L487.1,219.1 L487.6,222.3 L488.2,222.4 L488.7,211.3 L489.3,218.5 L489.8,220.6 L490.4,221.9 L490.9,218.7 L491.5,216.4 L492.0,220.1 L492.6,222.2 L493.1,213.7 L493.7,214.5 L494.2,217.4 L494.8,211.3 L495.3,217.0 L495.9,231.6 L496.4,216.4 L497.0,219.6 L497.5,216.6 L498.1,220.4 L498.6,221.5 L499.2,223.6 L499.7,219.8 L500.3,222.5 L500.8,220.6 L501.4,217.6 L501.9,223.4 L502.5,217.4 L503.0,219.2 L503.6,226.5 L504.1,222.2 L504.7,216.3 L505.2,219.2 L505.8,216.8 L506.3,226.0 L506.9,213.5 L507.4,218.5 L508.0,213.3 L508.5,218.8 L509.1,219.3 L509.6,220.8 L510.2,225.3 L510.7,213.3 L511.3,213.5 L511.8,214.1 L512.4,215.5 L512.9,220.2 L513.5,216.7 L514.0,215.5 L514.6,213.6 L515.1,214.9 L515.7,215.6 L516.2,216.7 L516.8,212.5 L517.3,216.9 L517.9,218.7 L518.4,218.2" stroke="#9467bd"/>
<path d="M82.6,416.3 L82.0,417.2 L82.0,417.2 L82.0,418.6 L82.4,419.5 L82.0,420.8 L82.0,421.5 L82.9,421.6 L84.4,422.6 L83.2,423.8 L83.1,424.1 L84.3,425.6 L83.7,426.6 L84.5,428.1 L83.0,428.7 L83.0,429.2 L83.8,430.3 L85.3,431.3 L85.7,432.7 L84.0,431.4 L82.9,430.6 L82.5,432.3 L83.8,431.1 L84.8,429.7 L85.8,430.0 L86.3,427.5 L85.6,426.3 L85.3,425.5 L84.8,425.2 L85.8,423.9 L85.0,423.8 L85.5,422.4 L86.1,422.4 L87.4,421.3 L86.9,418.9 L87.4,418.7 L86.8,417.3 L88.0,416.9 L87.7,416.3 L87.7,416.8 L87.1,414.8 L87.1,412.8 L87.0,412.6 L87.1,411.2 L88.6,411.9 L88.1,410.9 L88.7,410.4 L89.7,408.5 L88.9,407.0 L87.5,406.7 L88.7,405.0 L87.8,404.1 L88.0,403.3 L88.7,402.9 L89.6,401.3 L89.9,399.9 L89.7,400.9 L91.1,399.4 L91.6,398.6 L93.3,398.2 L92.4,397.3 L92.4,395.8 L92.5,394.9 L93.1,395.2 L93.3,394.4 L93.4,393.3 L95.1,392.7 L94.6,390.2 L94.7,389.8 L94.7,388.9 L93.9,387.1 L94.6,387.1 L92.8,386.6 L94.2,385.7 L92.9,383.8 L93.0,383.3 L93.5,382.8 L93.3,381.8 L93.3,381.1 L94.7,380.4 L97.0,380.0 L97.4,378.7 L97.1,378.8 L96.1,377.1 L95.3,376.0 L96.5,375.2 L97.1,374.0 L98.0,372.9 L98.4,372.7 L99.0,370.3 L97.8,369.2 L96.8,370.1 L95.8,369.1 L96.0,368.1 L96.0,367.0 L96.3,366.1 L95.5,364.6 L96.0,363.8 L97.1,362.6 L97.2,362.7 L94.9,361.8 L95.6,360.8 L95.8,359.9 L97.1,358.7 L97.2,357.3 L98.0,357.6 L97.7,356.6 L98.2,355.2 L99.1,354.6 L98.7,354.1 L99.0,353.3 L99.1,352.2 L99.6,351.3 L99.4,349.9 L99.8,349.6 L98.0,348.7 L98.2,347.8 L99.3,345.8 L100.0,345.5 L99.1,344.9 L98.6,344.1 L99.3,341.6 L99.8,340.5 L100.4,340.7 L100.4,339.5 L100.6,339.1 L101.5,338.2 L100.5,337.7 L99.4,336.3 L100.7,335.0 L100.2,334.7 L101.1,333.6 L100.7,332.2 L100.1,330.6 L101.8,332.6 L101.9,330.5 L100.9,329.3 L101.2,327.3 L101.5,326.6 L101.7,326.3 L102.2,325.9 L101.6,325.5 L101.9,323.8 L102.7,323.4 L103.6,323.1 L103.8,321.4 L103.3,320.5 L102.0,318.6 L103.9,318.0 L103.3,316.9 L103.4,317.1 L103.9,316.1 L104.7,316.2 L105.0,314.8 L104.6,314.1 L104.9,313.2 L107.0,312.1 L108.9,310.4 L108.2,310.9 L108.4,309.4 L106.7,307.2 L107.1,306.7 L107.8,305.7 L107.5,306.1 L109.1,305.5 L109.6,305.0 L109.8,304.7 L107.4,302.2 L107.2,300.2 L108.2,299.5 L108.0,299.5 L106.8,297.2 L106.9,297.0 L108.8,297.0 L109.6,295.6 L110.4,294.9 L110.4,293.6 L111.7,294.0 L108.9,293.6 L108.2,291.3 L110.4,290.1 L111.4,289.6 L111.4,289.2 L111.0,288.3 L109.4,287.5 L109.5,286.8 L109.8,286.1 L109.4,285.7 L111.1,284.0 L112.2,282.6 L111.9,281.7 L112.7,282.1 L112.5,280.8 L112.7,279.7 L112.2,279.1 L114.4,278.3 L112.7,278.0 L112.6,275.6 L113.6,274.8 L114.4,274.2 L112.7,273.5 L112.1,272.0 L112.4,270.3 L112.0,269.8 L111.9,268.9 L112.2,268.3 L112.6,268.1 L114.0,267.2 L112.6,265.4 L114.0,264.4 L114.0,264.0 L114.7,263.7 L114.5,262.4 L116.7,261.5 L114.8,259.7 L116.0,259.1 L115.5,258.1 L115.4,257.7 L116.7,256.7 L116.4,255.5 L117.1,254.4 L118.2,254.1 L117.2,252.9 L118.8,252.9 L119.5,251.7 L118.6,250.6 L118.3,250.1 L117.3,248.4 L117.5,248.2 L118.2,246.8 L118.8,246.4 L118.6,245.0 L117.8,243.8 L117.2,242.5 L116.4,242.3 L116.4,241.8 L117.3,240.2 L116.9,240.5 L116.5,239.1 L115.9,237.6 L117.0,237.9 L117.0,236.3 L115.9,236.1 L117.5,233.4 L118.7,234.2 L118.7,233.0 L118.3,231.9 L118.4,231.1 L117.7,229.5 L118.9,229.4 L120.1,228.5 L120.8,227.5 L120.6,226.2 L120.5,224.9 L120.7,224.6 L121.9,224.1 L120.6,223.0 L120.3,221.9 L119.6,220.8 L118.5,220.4 L119.2,220.0 L120.4,218.5 L119.4,217.1 L120.5,217.6 L121.0,215.3 L121.3,214.8 L122.3,213.8 L121.3,213.6 L122.6,212.2 L121.8,210.5 L122.0,209.5 L120.4,209.2 L121.5,208.5 L121.5,207.3 L121.0,206.3 L120.4,204.9 L120.9,203.9 L122.3,203.4 L122.8,202.6 L122.4,202.1 L121.8,200.7 L121.1,201.2 L121.3,198.9 L120.4,199.0 L120.8,198.3 L122.3,198.0 L122.6,197.2 L122.7,194.8 L122.5,194.4 L123.5,193.9 L124.2,193.3 L125.4,192.2 L124.6,190.7 L123.6,190.6 L123.4,189.2 L122.8,188.0 L123.3,187.3 L123.4,186.2 L123.2,185.1 L123.7,184.6 L125.1,185.2 L125.9,183.5 L125.4,182.2 L125.6,180.9 L126.0,180.3 L126.7,178.8 L126.4,178.5 L125.3,177.7 L125.9,176.7 L125.3,176.0 L125.4,174.8 L125.6,174.3 L126.8,173.4 L126.5,172.6 L126.9,171.4 L126.9,170.9 L126.6,169.6 L127.7,169.3 L127.3,167.9 L127.9,167.5 L128.3,166.3 L126.7,165.1 L125.7,163.7 L123.7,163.5 L125.4,162.7 L126.6,161.7 L127.0,161.0 L127.4,160.0 L127.8,158.4 L128.0,157.1 L128.6,157.4 L129.2,156.5 L129.1,156.7 L130.8,156.6 L131.8,155.3 L131.8,154.3 L133.6,153.4 L135.1,152.1 L135.8,150.5 L136.4,147.5 L136.0,149.5 L135.9,149.5 L135.4,148.5 L136.0,147.9 L137.1,148.8 L137.8,148.9 L138.3,147.6 L139.6,146.4 L141.0,147.1 L142.1,147.4 L142.3,149.5 L143.3,145.1 L143.9,145.8 L144.7,143.6 L145.6,143.5 L146.7,148.7 L147.5,145.4 L148.3,145.1 L149.0,144.3 L149.9,146.6 L150.7,145.2 L151.6,142.7 L152.6,145.2 L153.5,147.3 L154.5,146.4 L155.4,146.3 L156.4,144.7 L157.6,143.7 L157.9,144.5 L158.3,142.8 L159.4,143.1 L160.4,142.2 L161.6,142.8 L162.6,144.2 L163.8,143.2 L164.5,144.4 L164.9,143.5 L165.8,142.2 L166.4,140.4 L167.1,141.5 L168.1,139.5 L168.9,142.1 L170.0,139.2 L170.8,138.1 L171.9,138.6 L172.6,137.3 L173.5,139.8 L174.3,139.0 L175.4,139.1 L176.1,140.9 L177.1,136.5 L177.5,138.5 L178.4,140.0 L179.6,141.5 L180.5,140.3 L181.4,138.4 L182.4,140.6 L183.6,141.1 L184.2,143.3 L185.1,143.8 L185.8,139.8 L186.8,141.2 L187.6,139.5 L188.3,136.8 L189.0,138.8 L190.1,140.4 L191.0,134.4 L192.1,138.9 L192.7,136.4 L193.5,139.8 L194.5,138.4 L195.5,137.7 L196.5,139.9 L197.4,137.2 L198.2,141.0 L199.2,136.3 L200.0,135.5 L201.0,134.4 L202.0,137.0 L202.9,136.7 L203.7,138.2 L204.7,139.1 L205.6,138.9 L206.4,139.3 L207.3,139.5 L208.2,137.2 L209.1,135.3 L210.0,134.2 L210.9,137.2 L211.8,135.6 L212.7,134.3 L213.6,134.1 L214.5,135.2 L215.4,136.4 L216.2,135.8 L217.1,134.1 L218.0,136.6 L218.9,132.0 L219.8,134.3 L220.8,137.5 L221.7,137.0 L222.6,138.6 L223.4,137.0 L224.4,137.4 L225.3,136.5 L226.2,135.3 L227.1,136.5 L228.0,138.0 L228.9,132.7 L229.8,133.4 L230.7,131.0 L231.6,132.6 L232.5,132.4 L233.4,133.9 L234.3,134.7 L235.2,137.4 L236.1,138.7 L237.0,135.1 L237.9,134.7 L238.8,136.7 L239.7,134.8 L240.6,134.7 L241.5,131.9 L242.4,136.1 L243.3,136.4 L244.2,134.1 L245.1,132.8 L246.0,132.9 L246.9,135.8 L247.8,134.9 L248.8,133.3 L249.6,134.5 L250.5,137.2 L251.4,138.7 L252.3,139.4 L253.2,137.3 L254.1,137.0 L255.0,137.0 L255.6,137.7 L256.6,263.0 L257.2,270.0 L257.7,278.5 L258.3,287.4 L258.8,279.7 L259.4,269.2 L259.9,270.2 L260.5,257.9 L261.0,258.1 L261.6,256.2 L262.1,254.9 L262.7,257.8 L263.2,253.1 L263.8,251.4 L264.3,251.9 L264.9,248.0 L265.4,245.7 L266.0,252.8 L266.5,253.9 L267.1,245.7 L267.6,253.9 L268.2,255.3 L268.7,245.2 L269.3,249.4 L269.8,247.4 L270.4,250.4 L270.9,238.7 L271.5,248.3 L272.0,245.9 L272.6,248.0 L273.1,249.1 L273.7,238.9 L274.2,244.9 L274.8,245.6 L275.3,250.0 L275.9,249.1 L276.4,248.0 L277.0,243.1 L277.5,247.1 L278.1,242.8 L278.6,247.0 L279.2,244.4 L279.7,244.0 L280.3,244.8 L280.8,239.5 L281.4,242.8 L281.9,240.3 L282.5,246.5 L283.0,248.1 L283.6,239.7 L284.1,236.3 L284.7,243.5 L285.2,241.7 L285.8,240.2 L286.3,249.9 L286.9,242.5 L287.4,239.7 L288.0,241.6 L288.5,243.5 L289.1,247.5 L289.6,243.9 L290.2,238.6 L290.7,240.4 L291.3,249.0 L291.8,237.2 L292.4,241.3 L292.9,245.4 L293.5,242.8 L294.0,241.0 L294.6,238.6 L295.1,241.5 L295.7,242.8 L296.2,241.9 L296.8,244.2 L297.3,241.8 L297.9,244.8 L298.4,241.5 L299.0,243.4 L299.5,239.7 L300.1,245.6 L300.6,244.6 L301.2,242.6 L301.7,237.1 L302.3,240.1 L302.8,230.6 L303.4,237.5 L303.9,239.8 L304.5,236.7 L305.0,239.5 L305.6,241.2 L306.1,244.8 L306.7,239.5 L307.2,234.0 L307.8,230.9 L308.3,237.2 L308.9,241.1 L309.4,242.0 L310.0,238.9 L310.5,236.1 L311.1,235.6 L311.6,237.2 L312.2,237.9 L312.7,239.5 L313.3,238.0 L313.8,243.6 L314.4,238.4 L314.9,238.9 L315.5,240.6 L316.0,240.5 L316.6,235.5 L317.1,232.0 L317.7,232.6 L318.2,237.8 L318.8,239.0 L319.3,238.3 L319.9,239.6 L320.4,241.3 L321.0,235.1 L321.5,251.2 L322.1,246.0 L322.6,240.2 L323.2,236.7 L323.7,237.7 L324.3,232.6 L324.8,236.5 L325.4,234.3 L325.9,236.3 L326.5,235.8 L327.0,243.1 L327.6,234.7 L328.1,237.5 L328.7,235.6 L329.2,241.5 L329.8,240.5 L330.3,232.3 L330.9,233.2 L331.4,237.1 L332.0,234.7 L332.5,237.8 L333.1,236.9 L333.6,233.2 L334.2,235.3 L334.7,237.8 L335.3,239.7 L335.8,236.9 L336.4,237.6 L336.9,240.1 L337.5,240.5 L338.0,232.9 L338.6,237.5 L339.1,234.8 L339.7,237.4 L340.2,239.0 L340.8,238.5 L341.3,238.6 L341.9,238.8 L342.4,238.1 L343.0,235.7 L343.5,238.4 L344.1,239.3 L344.6,239.0 L345.2,237.1 L345.7,236.8 L346.3,229.7 L346.8,232.6 L347.4,234.7 L347.9,238.5 L348.5,239.5 L349.0,236.2 L349.6,231.9 L350.1,236.4 L350.7,238.3 L351.2,237.8 L351.8,233.1 L352.3,231.4 L352.9,231.7 L353.4,231.1 L354.0,237.4 L354.5,235.9 L355.1,241.4 L355.6,240.3 L356.2,238.1 L356.7,234.5 L357.3,236.1 L357.8,235.8 L358.4,229.9 L358.9,229.7 L359.5,231.2 L360.0,237.5 L360.6,232.9 L361.1,229.3 L361.7,233.5 L362.2,239.7 L362.8,230.4 L363.3,239.0 L363.9,231.6 L364.4,236.4 L365.0,241.3 L365.5,231.1 L366.1,232.5 L366.6,233.0 L367.2,231.8 L367.7,235.0 L368.3,233.1 L368.8,227.3 L369.4,233.9 L369.9,228.9 L370.5,231.3 L371.0,233.0 L371.6,232.0 L372.1,235.3 L372.7,232.2 L373.2,230.4 L373.8,236.9 L374.3,234.7 L374.9,231.7 L375.4,233.0 L376.0,230.4 L376.5,231.7 L377.1,228.6 L377.6,236.6 L378.2,235.7 L378.7,224.8 L379.3,227.6 L379.8,230.7 L380.4,229.0 L380.9,224.2 L381.5,232.4 L382.0,227.3 L382.6,232.6 L383.1,232.3 L383.7,235.6 L384.2,228.3 L384.8,236.0 L385.3,227.2 L385.9,234.7 L386.4,234.1 L387.0,232.0 L387.5,227.0 L388.1,234.8 L388.6,233.7 L389.2,225.1 L389.7,221.3 L390.3,226.9 L390.8,226.8 L391.4,231.6 L391.9,230.2 L392.5,230.6 L393.0,228.0 L393.6,232.2 L394.1,227.8 L394.7,224.4 L395.2,221.2 L395.8,229.9 L396.3,227.2 L396.9,223.5 L397.4,225.6 L398.0,227.3 L398.5,230.8 L399.1,222.3 L399.6,226.7 L400.2,230.7 L400.7,230.2 L401.3,231.1 L401.8,234.8 L402.4,226.2 L402.9,226.1 L403.5,231.2 L404.0,233.4 L404.6,229.5 L405.1,227.0 L405.7,224.1 L406.2,229.2 L406.8,228.8 L407.3,224.3 L407.9,225.5 L408.4,224.1 L409.0,228.7 L409.5,226.8 L410.1,230.9 L410.6,231.5 L411.2,228.4 L411.7,231.8 L412.3,230.3 L412.8,234.9 L413.4,225.6 L413.9,228.3 L414.5,232.3 L415.0,228.9 L415.6,225.2 L416.1,226.8 L416.7,233.2 L417.2,225.5 L417.8,223.9 L418.3,228.4 L418.9,224.8 L419.4,220.6 L420.0,221.0 L420.5,224.9 L421.1,223.3 L421.6,229.6 L422.2,223.7 L422.7,220.6 L423.3,222.1 L423.8,220.7 L424.4,228.0 L424.9,222.6 L425.5,229.1 L426.0,226.7 L426.6,231.0 L427.1,224.7 L427.7,226.9 L428.2,217.9 L428.8,222.0 L429.3,221.4 L429.9,227.2 L430.4,223.7 L431.0,225.8 L431.5,221.7 L432.1,219.5 L432.6,223.0 L433.2,227.7 L433.7,223.9 L434.3,228.5 L434.8,223.0 L435.4,222.4 L435.9,222.3 L436.5,222.6 L437.0,221.2 L437.6,222.5 L438.1,220.8 L438.7,219.9 L439.2,227.8 L439.8,226.5 L440.3,222.7 L440.9,221.3 L441.4,218.2 L442.0,225.9 L442.5,221.2 L443.1,229.0 L443.6,218.3 L444.2,223.7 L444.7,227.0 L445.3,221.8 L445.8,229.3 L446.4,226.8 L446.9,226.5 L447.5,220.6 L448.0,225.9 L448.6,226.4 L449.1,223.7 L449.7,228.6 L450.2,224.5 L450.8,215.9 L451.3,223.2 L451.9,228.3 L452.4,221.4 L453.0,224.9 L453.5,220.9 L454.1,222.5 L454.6,214.1 L455.2,216.1 L455.7,221.0 L456.3,220.6 L456.8,216.5 L457.4,224.1 L457.9,223.7 L458.5,219.8 L459.0,215.6 L459.6,223.5 L460.1,220.9 L460.7,224.4 L461.2,226.0 L461.8,221.5 L462.3,221.4 L462.9,224.4 L463.4,221.5 L464.0,215.8 L464.5,225.0 L465.1,223.0 L465.6,220.2 L466.2,223.3 L466.7,220.7 L467.3,220.4 L467.8,224.1 L468.4,218.6 L468.9,216.1 L469.5,222.1 L470.0,217.3 L470.6,223.8 L471.1,219.4 L471.7,215.8 L472.2,219.6 L472.8,214.2 L473.3,224.9 L473.9,221.6 L474.4,223.5 L475.0,223.1 L475.5,222.0 L476.1,218.0 L476.6,223.3 L477.2,220.3 L477.7,218.6 L478.3,214.4 L478.8,224.4 L479.4,220.6 L479.9,219.7 L480.5,214.9 L481.0,223.3 L481.6,228.9 L482.1,224.1 L482.7,221.1 L483.2,218.2 L483.8,222.3 L484.3,216.0 L484.9,215.4 L485.4,220.0 L486.0,224.0 L486.5,224.4 L487.1,220.7 L487.6,220.3 L488.2,221.2 L488.7,220.0 L489.3,218.9 L489.8,221.9 L490.4,219.0 L490.9,219.6 L491.5,224.0 L492.0,221.4 L492.6,220.2 L493.1,222.3 L493.7,220.6 L494.2,222.3 L494.8,217.6 L495.3,217.4 L495.9,215.3 L496.4,223.0 L497.0,224.7 L497.5,224.1 L498.1,221.4 L498.6,220.8 L499.2,219.1 L499.7,221.5 L500.3,219.3 L500.8,216.5 L501.4,222.4 L501.9,222.7 L502.5,221.5 L503.0,219.5 L503.6,218.3 L504.1,219.6 L504.7,220.1 L505.2,215.8 L505.8,217.5 L506.3,215.8 L506.9,222.3 L507.4,215.3 L508.0,215.0 L508.5,215.9 L509.1,219.2 L509.6,216.1 L510.2,224.1 L510.7,221.7 L511.3,211.7 L511.8,218.8 L512.4,219.9 L512.9,214.9 L513.5,218.0 L514.0,218.9 L514.6,216.7 L515.1,218.1 L515.7,219.5 L516.2,217.0 L516.8,218.1 L517.3,214.7 L517.9,219.9 L518.4,216.5" stroke="#e377c2"/>
</g>
<rect x="61" y="109.2" width="479" height="356.6" fill="none" stroke="#151515" stroke-width="1.3"/>
<g stroke="#151515" stroke-width="1.15"><line x1="82.5" y1="465.8" x2="82.5" y2="471.0"/><line x1="140.5" y1="465.8" x2="140.5" y2="471.0"/><line x1="198.4" y1="465.8" x2="198.4" y2="471.0"/><line x1="256.4" y1="465.8" x2="256.4" y2="471.0"/><line x1="314.4" y1="465.8" x2="314.4" y2="471.0"/><line x1="372.4" y1="465.8" x2="372.4" y2="471.0"/><line x1="430.3" y1="465.8" x2="430.3" y2="471.0"/><line x1="488.3" y1="465.8" x2="488.3" y2="471.0"/><line x1="55.8" y1="180.0" x2="61" y2="180.0"/><line x1="55.8" y1="252.4" x2="61" y2="252.4"/><line x1="55.8" y1="324.8" x2="61" y2="324.8"/><line x1="55.8" y1="397.2" x2="61" y2="397.2"/></g>
<g class="sans"><text transform="translate(82.5,484.6) scale(1.055,1)" text-anchor="middle">0</text><text transform="translate(140.5,484.6) scale(1.055,1)" text-anchor="middle">1</text><text transform="translate(198.4,484.6) scale(1.055,1)" text-anchor="middle">2</text><text transform="translate(256.4,484.6) scale(1.055,1)" text-anchor="middle">3</text><text transform="translate(314.4,484.6) scale(1.055,1)" text-anchor="middle">4</text><text transform="translate(372.4,484.6) scale(1.055,1)" text-anchor="middle">5</text><text transform="translate(430.3,484.6) scale(1.055,1)" text-anchor="middle">6</text><text transform="translate(488.3,484.6) scale(1.055,1)" text-anchor="middle">7</text><text transform="translate(51.3,184.6) scale(1.055,1)" text-anchor="end">5</text><text transform="translate(51.3,257.0) scale(1.055,1)" text-anchor="end">0</text><text transform="translate(51.3,329.4) scale(1.055,1)" text-anchor="end">-5</text><text transform="translate(51.3,401.8) scale(1.055,1)" text-anchor="end">-10</text>
<text transform="translate(299.7,503.8) scale(1.055,1)" text-anchor="middle">Episode</text>
<text transform="translate(21.9,289.5) rotate(-90)" text-anchor="middle" font-size="13.35">Reward</text>
<text transform="translate(505,506.4) scale(1.055,1)">×10<tspan dy="-5.2" font-size="8.8">6</tspan></text>
</g>
<rect x="439.8" y="373.7" width="92.8" height="85.1" rx="3" fill="#fff" fill-opacity="0.8" stroke="#ccc" stroke-width="1"/>
<g fill="none" stroke-width="2.4"><line x1="443.2" y1="385.1" x2="471.5" y2="385.1" stroke="#2ca02c" stroke-dasharray="7 3.6"/><line x1="443.2" y1="405.4" x2="471.5" y2="405.4" stroke="#d62728" stroke-dasharray="7 3.6"/><line x1="443.2" y1="425.5" x2="471.5" y2="425.5" stroke="#9467bd"/><line x1="443.2" y1="445.7" x2="471.5" y2="445.7" stroke="#e377c2"/></g>
<g class="sans"><text transform="translate(481.9,389.7) scale(1.055,1)" text-anchor="start">RLc 9</text><text transform="translate(481.9,410.0) scale(1.055,1)" text-anchor="start">RLc 10</text><text transform="translate(481.9,430.1) scale(1.055,1)" text-anchor="start">RLc 11</text><text transform="translate(481.9,450.3) scale(1.055,1)" text-anchor="start">RLc 12</text></g>
</svg>
</body></html>
